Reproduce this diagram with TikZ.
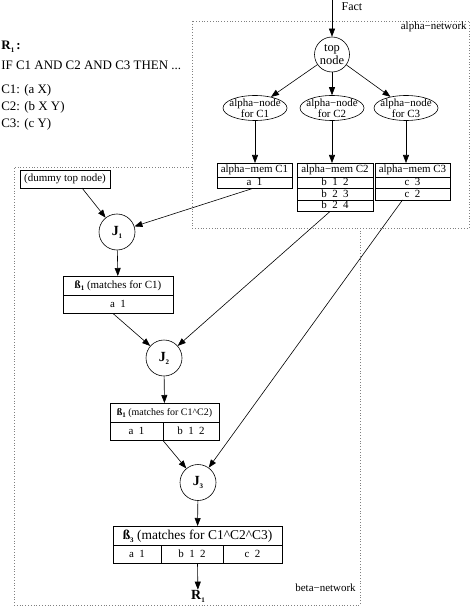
\documentclass[tikz,border=0pt]{standalone}
\usepackage{fontspec}
\setmainfont{Liberation Serif}
\usetikzlibrary{arrows.meta,shapes,positioning}

\newcommand\lowsub[1]{\raisebox{-0.45ex}{\scriptsize #1}}

\begin{document}
\begin{tikzpicture}[x=1bp,y=-1bp,>={Triangle[length=8bp,width=6bp]},line width=0.6bp,
every node/.style={inner sep=0pt},
anode/.style={
draw,
ellipse,
inner xsep=-4bp,
inner ysep=-3bp,
minimum width=64bp,
minimum height=25bp,
align=center,
font=\fontsize{11}{10}\selectfont,
},
jnode/.style={draw,circle,minimum size=36bp,font=\fontsize{14}{16}\selectfont\bfseries},
cell/.style={draw,rectangle,outer sep=0pt,minimum width=#1,text height=8bp,text depth=2.5bp,font=\fontsize{11}{12}\selectfont},
memhead/.style={cell=#1,minimum height=14bp},
memrow/.style={cell=#1,minimum height=11.5bp},
betarow/.style={cell=#1,minimum height=18.5bp},
net/.style={draw=gray,dash pattern=on 0.8bp off 2bp},
txt/.style={anchor=base west,font=\fontsize{13}{15}\selectfont}
]
\useasboundingbox (0,0) rectangle (470,611);

% rule text
\node[txt] (rule) at (1,50) {\textbf{R}\lowsub{\textbf{1}}\textbf{\,:}};
\node[txt] (cond) at (1,70) {IF C1 AND C2 AND C3 THEN ...};
\node[txt] (c1) at (1,94) {C1: (a X)};
\node[txt] (c2) at (1,111) {C2: (b X Y)};
\node[txt] (c3) at (1,128) {C3: (c Y)};

% alpha network
\draw[net] (192,21) rectangle (469,228);
\node[anchor=north east,font=\fontsize{11}{12}\selectfont] (alphalbl) at (467,21.5) {alpha−network};
\coordinate (in) at (332,0);
\node[font=\fontsize{12}{14}\selectfont] (fact) at (352,7) {Fact};
\node[draw,circle,inner sep=-2bp,minimum size=35bp,align=center,font=\fontsize{12.5}{11}\selectfont] (top) at (332,54.5) {top\\node};
\node [anode] (alphaA) at (255,108) {alpha−node\\for C1};
\node [anode] (alphaB) at (332,108) {alpha−node\\for C2};
\node [anode] (alphaC) at (406,108) {alpha−node\\for C3};

\node [memhead=75bp] (memA) at (254.5,170) {alpha−mem C1};
\node [memrow=75bp, below=0pt of memA] (memA1) {a\ \ 1};
\node [memhead=76bp] (memB) at (335,170) {alpha−mem C2};
\node [memrow=76bp, below=0pt of memB] (memB1) {b\ \ 1\ \ 2};
\node [memrow=76bp, below=0pt of memB1] (memB2) {b\ \ 2\ \ 3};
\node [memrow=76bp, below=0pt of memB2] (memB3) {b\ \ 2\ \ 4};
\node [memhead=75bp] (memC) at (412.5,170) {alpha−mem C3};
\node [memrow=75bp, below=0pt of memC] (memC1) {c\ \ 3};
\node [memrow=75bp, below=0pt of memC1] (memC2) {c\ \ 2};

% beta network
\draw[net] (192,167) -- (14,167) -- (14,605) -- (360,605) -- (360,228);
\node[anchor=base east,font=\fontsize{11}{12}\selectfont] (betalbl) at (356,591) {beta−network};
\node [cell=90bp,minimum height=18bp] (dummy) at (65,179) {(dummy top node)};
\node [jnode] (J1) at (117,232) {J\lowsub{1}};
\node [jnode] (J2) at (164,358) {J\lowsub{2}};
\node [jnode] (J3) at (198,482.5) {J\lowsub{3}};

\node [cell=110bp,minimum height=19bp] (b1) at (118,285.5) {\textbf{ß}\lowsub{\textbf{1}} (matches for C1)};
\node [betarow=110bp, below=0pt of b1] (b1a) {a\ \ 1};

\node [cell=109bp,minimum height=19bp,font=\fontsize{10}{12}\selectfont] (b2) at (164.5,412.5) {\textbf{ß}\lowsub{\textbf{1}} (matches for C1\^{}C2)};
\node [betarow=53bp, below right=0pt of b2.south west] (b2a) {a\ \ 1};
\node [betarow=56bp, right=0pt of b2a] (b2b) {b\ \ 1\ \ 2};

\node [cell=169bp,minimum height=19bp,text height=10bp,font=\fontsize{13.5}{15}\selectfont] (b3) at (197.5,535.5) {\textbf{ß}\lowsub{\textbf{3}} (matches for C1\^{}C2\^{}C3)};
\node [betarow=48bp, below right=0pt of b3.south west] (b3a) {a\ \ 1};
\node [betarow=62bp, right=0pt of b3a] (b3b) {b\ \ 1\ \ 2};
\node [betarow=59bp, right=0pt of b3b] (b3c) {c\ \ 2};
\node [font=\fontsize{14}{16}\selectfont\bfseries] (R1) at (198,596) {R\lowsub{1}};

\draw[->] (in) -- (top);
\foreach \i/\j in {top/alphaA,top/alphaB,top/alphaC,J1/b1,J2/b2,J3/b3}
	\draw[->] (\i) -- (\j);
\foreach \i/\j in {alphaA/memA,alphaB/memB,alphaC/memC}
	\draw[->] (\i) -- (\i |- \j.north);
\draw[->] ([xshift=17bp]dummy.south) -- (J1);
\draw[->] ([xshift=-2bp]memA1.south) -- (J1);
\draw[->] ([xshift=-5bp]b1a.south) -- (J2);
\draw[->] ([xshift=-5bp]memB3.south) -- (J2);
\draw[->] (b2a.south east) -- (J3);
\draw[->] ([xshift=-10bp]memC2.south) -- (J3);
\draw[->] (b3.center |- b3b.south) -- (R1);
\end{tikzpicture}
\end{document}
